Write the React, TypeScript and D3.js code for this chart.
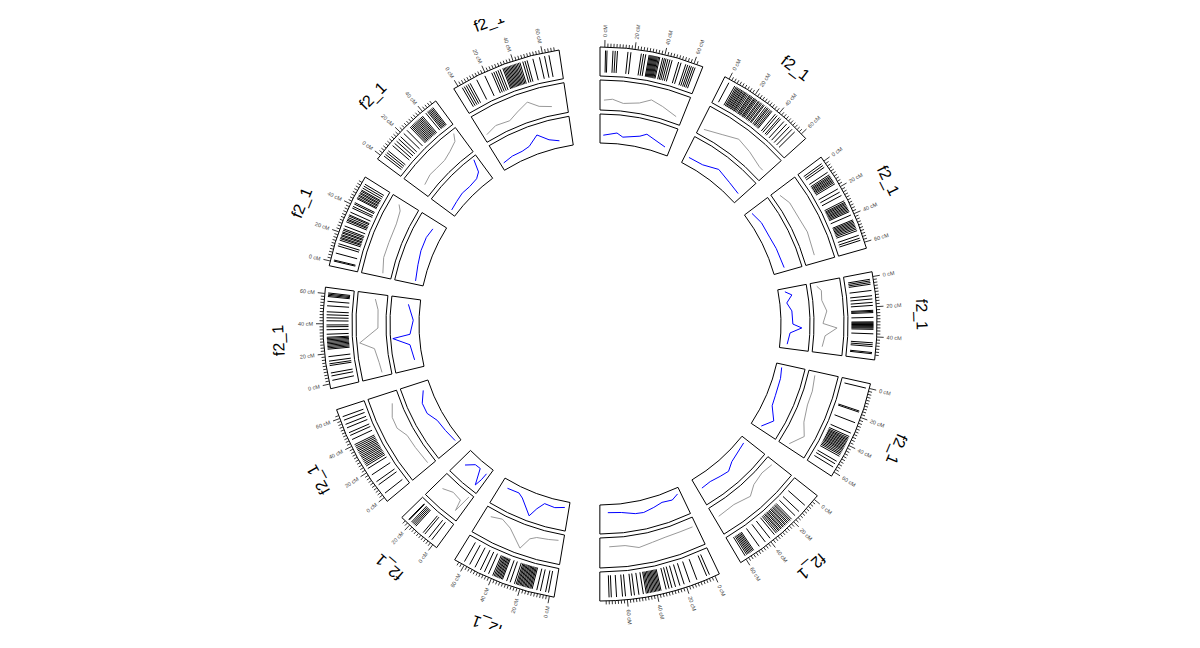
import React from 'react';
import * as d3 from 'd3';

const W = 1200;
const H = 648;
const CX = 600;
const CY = 324;
const plotMargin = 19; // R-style plot region, everything outside is clipped

// linkage groups, clockwise from 12 o'clock
const groupNames = ['f2_1', 'f2_1', 'f2_1', 'f2_1', 'f2_1', 'f2_1', 'f2_1',
  'f2_1', 'f2_1', 'f2_1', 'f2_1', 'f2_1', 'f2_1', 'f2_1'];
const groupLengths = [63, 61, 61, 52, 60, 61, 75, 64, 24, 63, 61, 57, 48, 68]; // cM
const gapAfter = [5, 5, 5, 5, 5, 5, 9.5, 4.5, 4.5, 4.5, 4.5, 4.5, 4.5, 8.5]; // degrees
const cellPadding = 1; // degrees on each side of a cell

// marker positions (cM) per group
const markers = [
  [0.5, 1.5, 5.5, 7, 8.5, 15.5, 17.5, 24.5, 26, 27.5, 29.8, 30.5, 31.2, 31.9, 32.6, 33.3, 34, 34.7, 35.4, 36.2, 37, 39, 40.2, 41.3, 42.6, 44, 45.5, 50, 51.7, 55, 56.4, 57.8, 59, 60.3, 61.6],
  [1, 5.5, 6.6, 7.5, 8.3, 9.2, 10, 10.9, 11.6, 12.5, 13.4, 14.1, 15, 16, 17.1, 17.8, 18.7, 19.5, 20.6, 21.3, 22.1, 23, 24.2, 25, 26.1, 27, 28.2, 29, 30.5, 31.6, 32.4, 33.5, 34.6, 35.5, 38.5, 40, 42, 43.2, 46, 48.5, 51, 53.5, 56],
  [0.5, 2, 3.5, 7.5, 9.5, 10.5, 11.3, 12.1, 13, 13.8, 14.6, 15.5, 16.6, 20.5, 23, 25.5, 29.5, 30.6, 31.4, 32.2, 33.1, 34, 34.8, 35.7, 36.6, 37.5, 40, 43.5, 44.4, 45.3, 46.2, 47.1, 48, 49, 50, 51.2, 54.5, 56.5, 58],
  [1.5, 2.6, 3.7, 4.8, 9, 12.5, 14.7, 17, 19, 22.3, 23, 23.8, 27, 30, 30.6, 31.2, 31.8, 32.4, 33, 33.6, 34.2, 35, 38, 44, 45.3, 46.5, 50.5, 51.3],
  [0.3, 16.2, 17, 24.5, 32, 34.5, 35.6, 36.5, 37.3, 38.2, 39, 39.9, 40.7, 41.6, 42.4, 43.3, 44.1, 45, 46, 47, 48, 49.2, 53, 55, 57.5],
  [7, 12.7, 16.5, 19.8, 20.9, 21.8, 22.9, 23.8, 24.9, 25.7, 26.8, 27.6, 28.7, 29.5, 30.6, 31.4, 32.5, 33.6, 35.2, 39, 43, 48, 52.5, 53.4, 54.3, 55.2, 56.1, 57, 58, 59.3],
  [3, 5, 12, 17, 21, 24, 27, 29.5, 31.5, 33.5, 37, 37.9, 38.8, 39.7, 40.6, 41.5, 42.4, 43.3, 44.2, 45.2, 46.1, 47, 49, 52, 55, 57, 61, 63, 67, 70.5, 72],
  [1, 3, 6.5, 9, 12.2, 13.1, 13.9, 14.8, 15.6, 16.5, 17.3, 18.2, 19, 19.9, 20.7, 21.6, 22.4, 23.3, 24.5, 27.5, 30, 33, 33.8, 34.7, 35.5, 36.4, 37.2, 38.1, 39, 40, 43, 46, 49, 53, 57, 61],
  [2.5, 5, 8.5, 10, 16.5, 17.5, 18.5, 19.5, 20.5, 22.5, 23],
  [2, 9, 11.5, 17, 22, 24, 25.2, 26.3, 27.5, 28.6, 29.8, 30.9, 32, 33.2, 34.3, 35.5, 36.6, 37.8, 39, 40.2, 44, 47, 49, 52.5, 55, 58, 60.5],
  [2, 5, 7, 12, 13.2, 15, 18, 23, 23.9, 24.8, 25.7, 26.6, 27.5, 28.4, 29.3, 30.2, 31, 33, 36, 38, 39.2, 42, 44, 46, 48, 52, 55, 58.2, 59, 59.8, 60.6],
  [0.5, 1.2, 6, 11, 12.5, 15, 16.1, 16.9, 18, 18.8, 20, 20.8, 22, 23, 25, 28, 29.1, 29.9, 31, 32.2, 33, 35, 38, 39.2, 41, 42, 45, 45.8, 46.9, 47.7, 48.8, 49.6, 50.7, 51.5, 53, 54.5, 56],
  [1, 2.5, 4, 5.5, 10, 12, 14, 16, 18, 21, 24, 27, 28, 28.9, 29.8, 30.7, 31.6, 32.5, 33.4, 34.3, 35.2, 36.1, 37, 38, 41, 42.5, 43.4, 44.3, 45.2, 46.1, 47],
  [2, 3.5, 5, 6.5, 8, 13, 19, 24, 25.5, 27, 28.5, 30, 32, 32.9, 33.8, 34.7, 35.6, 36.5, 37.4, 38.3, 39.2, 40.1, 41, 42, 43, 44, 46, 47.5, 49, 53, 57.5, 61, 64],
];

// [cM, scaled value] for the gray and blue profile tracks
const grayProfile = [
  [[0, 0.33], [7, 0.37], [16, 0.26], [29, 0.35], [38, 0.53], [48, 0.41], [61, 0.23]],
  [[1, 0.22], [16, 0.38], [29, 0.57], [42, 0.47], [56, 0.33], [60, 0.33]],
  [[1.5, 0.24], [11, 0.37], [26.5, 0.38], [38.5, 0.43], [58, 0.37]],
  [[0, 0.2], [4, 0.33], [12, 0.3], [21, 0.44], [31, 0.3], [34.5, 0.77], [41, 0.38], [50, 0.31]],
  [[0, 0.23], [13, 0.29], [25, 0.29], [39, 0.41], [49, 0.64], [60, 0.33]],
  [[0, 0.27], [10.5, 0.2], [22, 0.28], [30.5, 0.49], [45, 0.36], [60.5, 0.4]],
  [[0, 0.3], [11, 0.29], [24, 0.3], [35, 0.35], [46.5, 0.43], [57.5, 0.3], [70.5, 0.3]],
  [[1, 0.21], [9, 0.25], [19, 0.29], [24, 0.4], [29, 0.8], [42, 0.3], [51, 0.14], [60.5, 0.25]],
  [[0, 0.1], [2, 0.73], [4, 0.36], [12.5, 0.31], [21, 0.46]],
  [[0, 0.24], [16, 0.27], [28, 0.29], [37, 0.47], [46.5, 0.46], [57, 0.28]],
  [[0, 0.31], [8.5, 0.34], [20, 0.43], [25.5, 0.9], [36.5, 0.27], [51.5, 0.28], [60, 0.4]],
  [[0, 0.3], [12.5, 0.41], [25.5, 0.41], [41.5, 0.43], [52, 0.52], [56, 0.66]],
  [[3, 0.33], [12, 0.41], [19.5, 0.39], [28.5, 0.39], [36.5, 0.49], [44.5, 0.64], [47.5, 0.87]],
  [[0, 0.22], [10, 0.34], [22, 0.28], [30.5, 0.45], [40.5, 0.65], [48.5, 0.4], [58.5, 0.29]],
];

const blueProfile = [
  [[0, 0.27], [13, 0.37], [19, 0.25], [35, 0.38], [41, 0.5], [61, 0.26]],
  [[1, 0.27], [16, 0.29], [31, 0.48], [47, 0.37], [60, 0.31]],
  [[0, 0.24], [12.5, 0.33], [28.5, 0.33], [41, 0.37], [60.5, 0.4]],
  [[0, 0.23], [4, 0.45], [11, 0.24], [19, 0.39], [31.5, 0.41], [35, 0.72], [40, 0.32], [51, 0.25]],
  [[0, 0.2], [10.5, 0.26], [28, 0.29], [38, 0.33], [50, 0.62], [60, 0.34]],
  [[1, 0.19], [22, 0.33], [30.5, 0.5], [39.5, 0.45], [50, 0.39], [60, 0.42]],
  [[0, 0.2], [7, 0.32], [17, 0.27], [26, 0.35], [36.5, 0.43], [44.5, 0.41], [57.5, 0.3], [70.5, 0.27]],
  [[1, 0.2], [10.5, 0.28], [21, 0.24], [26.5, 0.49], [31, 0.81], [43, 0.33], [48, 0.22], [60, 0.26]],
  [[0, 0.24], [0.5, 0.51], [2, 0.78], [8, 0.23], [14, 0.24], [21, 0.49]],
  [[0, 0.17], [13.5, 0.23], [26, 0.28], [36.5, 0.47], [47, 0.47], [58, 0.27]],
  [[5, 0.27], [20, 0.35], [27, 0.92], [30, 0.32], [43.5, 0.2], [58.5, 0.4]],
  [[0, 0.29], [15.5, 0.36], [29, 0.43], [42.5, 0.45], [52.5, 0.39]],
  [[0, 0.21], [9.5, 0.26], [19, 0.31], [28.5, 0.29], [38.5, 0.33], [44, 0.47], [47.5, 0.9]],
  [[0, 0.23], [10.5, 0.29], [21, 0.29], [29, 0.35], [39.5, 0.63], [49, 0.35], [58.5, 0.23]],
];

// track radii
const markerTrack = [248, 277];
const grayTrack = [214, 244];
const blueTrack = [181, 210];

const rad = (deg: number) => (deg * Math.PI) / 180;
const polar = (r: number, deg: number) => [r * Math.sin(rad(deg)), -r * Math.cos(rad(deg))];

const font = "'Liberation Sans', Arial, sans-serif";

export default function App() {
  const degPerCM =
    (360 - d3.sum(gapAfter) - 2 * cellPadding * groupLengths.length) / d3.sum(groupLengths);

  let acc = 0;
  const sectors = groupLengths.map((len, i) => {
    const start = acc;
    const end = start + len * degPerCM + 2 * cellPadding;
    acc = end + gapAfter[i];
    const x = d3.scaleLinear().domain([0, len]).range([start + cellPadding, end - cellPadding]);
    return { i, len, start, end, x };
  });

  const arc = d3.arc<any>();
  const cell = (s: any, r: number[]) =>
    arc({ innerRadius: r[0], outerRadius: r[1], startAngle: rad(s.start), endAngle: rad(s.end) }) as string;

  const profileLine = (s: any, r: number[]) =>
    d3.lineRadial<number[]>()
      .angle((d) => rad(s.x(d[0])))
      .radius((d) => d3.scaleLinear().domain([0, 1]).range(r)(d[1]));

  const mr0 = markerTrack[0] + 0.12 * (markerTrack[1] - markerTrack[0]);
  const mr1 = markerTrack[1] - 0.12 * (markerTrack[1] - markerTrack[0]);

  return (
    <svg width={W} height={H} style={{ position: 'absolute', left: 0, top: 0, background: '#fff' }}>
      <defs>
        <clipPath id="plotRegion">
          <rect x={plotMargin} y={plotMargin} width={W - 2 * plotMargin} height={H - 2 * plotMargin} />
        </clipPath>
      </defs>
      <g clipPath="url(#plotRegion)">
        <g transform={`translate(${CX},${CY})`}>
          {sectors.map((s) => {
            const ticks = d3.range(0, s.len + 1e-9, 2);
            const mid = (s.start + s.end) / 2;
            const [lx, ly] = polar(322, mid);
            return (
              <g key={s.i}>
                {/* cell borders */}
                <path d={cell(s, markerTrack)} fill="none" stroke="#000" strokeWidth={1} />
                <path d={cell(s, grayTrack)} fill="none" stroke="#000" strokeWidth={1} />
                <path d={cell(s, blueTrack)} fill="none" stroke="#000" strokeWidth={1} />

                {/* markers */}
                {markers[s.i].map((m, j) => {
                  const [x0, y0] = polar(mr0, s.x(m));
                  const [x1, y1] = polar(mr1, s.x(m));
                  return <line key={j} x1={x0} y1={y0} x2={x1} y2={y1} stroke="#000" strokeWidth={1} />;
                })}

                {/* profiles */}
                <path d={profileLine(s, grayTrack)(grayProfile[s.i]) as string} fill="none" stroke="#999" strokeWidth={1} />
                <path d={profileLine(s, blueTrack)(blueProfile[s.i]) as string} fill="none" stroke="#0000ff" strokeWidth={1} />

                {/* axis */}
                {ticks.map((t) => {
                  const major = t % 20 === 0;
                  const a = s.x(t);
                  const [x0, y0] = polar(markerTrack[1], a);
                  const [x1, y1] = polar(markerTrack[1] + (major ? 7 : 3.5), a);
                  return <line key={t} x1={x0} y1={y0} x2={x1} y2={y1} stroke="#000" strokeWidth={0.8} />;
                })}
                {ticks.filter((t) => t % 20 === 0).map((t) => {
                  const a = s.x(t);
                  const [tx, ty] = polar(287, a);
                  const right = a < 180;
                  return (
                    <text key={'l' + t} x={tx} y={ty}
                      transform={`rotate(${right ? a - 90 : a + 90},${tx},${ty})`}
                      textAnchor={right ? 'start' : 'end'} dominantBaseline="central"
                      fontSize={5.5} fontFamily={font} fill="#444">
                      {`${t} cM`}
                    </text>
                  );
                })}

                {/* group name */}
                <text x={lx} y={ly} transform={`rotate(${mid},${lx},${ly})`}
                  textAnchor="middle" dominantBaseline="central" fontSize={16} fontFamily={font} fill="#000">
                  {groupNames[s.i]}
                </text>
              </g>
            );
          })}
        </g>
      </g>
    </svg>
  );
}
